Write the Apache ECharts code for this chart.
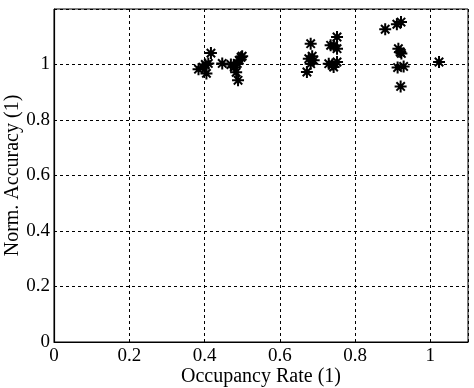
<!DOCTYPE html>
<html><head><meta charset="utf-8">
<script src="https://cdn.jsdelivr.net/npm/echarts@6/dist/echarts.min.js"></script>
<style>html,body{margin:0;padding:0;background:#fff}#c{width:474px;height:388px}</style>
</head><body><div id="c"></div>
<script>
const occupancy = [0.384,0.417,0.410,0.402,0.405,0.395,0.447,0.479,0.487,0.497,0.492,0.470,0.484,0.489,0.500,
  0.682,0.677,0.690,0.672,0.682,0.686,0.752,0.743,0.752,0.730,0.743,0.752,0.735,0.740,
  0.880,0.911,0.922,0.915,0.920,0.923,0.913,0.929,0.921,1.023];
const accuracy = [0.983,1.041,1.004,1.000,0.968,0.990,1.004,0.990,1.004,1.026,1.015,1.000,0.972,0.943,1.030,
  1.075,1.021,1.015,0.973,1.003,1.030,1.099,1.069,1.057,1.003,0.991,1.009,1.069,1.000,
  1.127,1.145,1.153,1.057,1.045,1.040,0.989,0.993,0.921,1.009];
const xTicks = [0,0.2,0.4,0.6,0.8,1];
const yTicks = [0,0.2,0.4,0.6,0.8,1];
const points = occupancy.map((x,i)=>[x,accuracy[i]]);
const chart = echarts.init(document.getElementById('c'));
const font = 'Liberation Serif';
const dash = {show:true,lineStyle:{color:'#000',type:[3,3],width:1}};
chart.setOption({
  backgroundColor:'#fff',
  animation:false,
  grid:{left:54,right:6,top:9,bottom:46,outerBoundsMode:'none',containLabel:false,show:true,borderColor:'#000',borderWidth:1,backgroundColor:'transparent'},
  xAxis:{type:'value',min:0,max:1.1,interval:0.2,
    name:'Occupancy Rate (1)',nameLocation:'middle',nameGap:25,nameMoveOverlap:false,
    nameTextStyle:{fontFamily:font,fontSize:20,color:'#000'},
    axisLine:{show:true,lineStyle:{color:'#000',width:1.2}},axisTick:{show:false},
    axisLabel:{fontFamily:font,fontSize:19,color:'#000',margin:5,showMaxLabel:false,
      formatter:v=>xTicks.some(t=>Math.abs(t-v)<1e-6)?String(+v.toFixed(1)):''},
    splitLine:dash},
  yAxis:{type:'value',min:0,max:1.2,interval:0.2,
    name:'Norm. Accuracy (1)',nameLocation:'middle',nameGap:31,nameMoveOverlap:false,
    nameTextStyle:{fontFamily:font,fontSize:20,color:'#000'},
    axisLine:{show:true,lineStyle:{color:'#000',width:1.2}},axisTick:{show:false},
    axisLabel:{fontFamily:font,fontSize:19,color:'#000',margin:4,showMaxLabel:false,
      formatter:v=>yTicks.some(t=>Math.abs(t-v)<1e-6)?String(+v.toFixed(1)):''},
    splitLine:dash},
  series:[{type:'scatter',data:points,
    symbol:'path://M0,-10L0,10M-10,0L10,0M-7,-7L7,7M-7,7L7,-7',
    symbolSize:12,
    itemStyle:{color:'rgba(0,0,0,0)',borderColor:'#000',borderWidth:2,opacity:1}}]
});
</script></body></html>
